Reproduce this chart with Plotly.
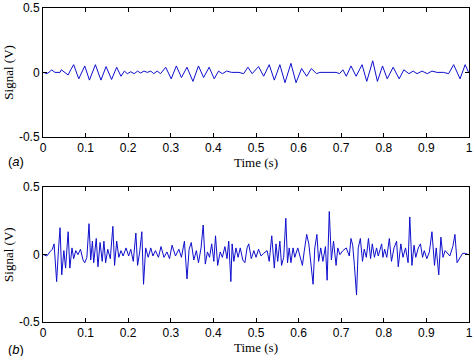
import plotly.graph_objects as go
from plotly.subplots import make_subplots

# Signal (a)
t_a = [0.001, 0.009, 0.016, 0.020, 0.028, 0.040, 0.043, 0.051, 0.059, 0.065,
       0.072, 0.084, 0.098, 0.109, 0.123, 0.136, 0.148, 0.161, 0.173, 0.183,
       0.191, 0.198, 0.206, 0.214, 0.222, 0.229, 0.237, 0.245, 0.253, 0.260,
       0.268, 0.276, 0.288, 0.301, 0.313, 0.325, 0.338, 0.352, 0.365, 0.377,
       0.390, 0.402, 0.412, 0.421, 0.431, 0.443, 0.460, 0.471, 0.481, 0.491,
       0.506, 0.518, 0.531, 0.543, 0.556, 0.568, 0.582, 0.594, 0.607, 0.619,
       0.630, 0.642, 0.650, 0.688, 0.696, 0.704, 0.712, 0.723, 0.735, 0.749,
       0.760, 0.774, 0.785, 0.797, 0.808, 0.822, 0.836, 0.847, 0.859, 0.869,
       0.878, 0.890, 0.902, 0.913, 0.925, 0.940, 0.952, 0.964, 0.979, 0.991,
       0.999]
v_a = [0.0, -0.01, 0.005, 0.02, 0.0, 0.0, 0.02, 0.0, -0.02, 0.02,
       0.06, -0.05, 0.05, -0.06, 0.06, -0.06, 0.045, -0.055, 0.04, -0.03,
       0.01, -0.01, 0.005, -0.01, 0.01, -0.005, 0.01, 0.0, 0.01, -0.01,
       0.01, -0.01, 0.04, -0.05, 0.05, -0.04, 0.04, -0.07, 0.05, -0.04,
       0.04, -0.05, 0.01, -0.01, 0.01, 0.0, 0.0, -0.01, 0.04, -0.01,
       0.045, -0.03, 0.06, -0.06, 0.06, -0.08, 0.07, -0.08, 0.03, -0.03,
       0.03, -0.01, 0.0, 0.0, -0.01, 0.02, -0.03, 0.05, -0.03, 0.06,
       -0.07, 0.09, -0.07, 0.05, -0.05, 0.04, -0.05, 0.02, -0.01, 0.01,
       -0.01, 0.01, -0.01, 0.01, 0.0, 0.0, -0.01, 0.06, -0.05, 0.06,
       0.0]

# Signal (b)
t_b = [0.001, 0.009, 0.016, 0.022, 0.026, 0.032, 0.036, 0.040, 0.044, 0.049,
       0.053, 0.059, 0.063, 0.068, 0.072, 0.077, 0.082, 0.088, 0.094, 0.098,
       0.103, 0.108, 0.112, 0.116, 0.119, 0.125, 0.129, 0.134, 0.139, 0.143,
       0.147, 0.152, 0.158, 0.164, 0.168, 0.173, 0.178, 0.183, 0.188, 0.195,
       0.201, 0.206, 0.212, 0.218, 0.222, 0.227, 0.232, 0.236, 0.241, 0.247,
       0.253, 0.258, 0.264, 0.271, 0.277, 0.284, 0.291, 0.297, 0.303, 0.311,
       0.319, 0.325, 0.332, 0.338, 0.343, 0.348, 0.354, 0.360, 0.365, 0.371,
       0.376, 0.381, 0.386, 0.391, 0.396, 0.401, 0.405, 0.410, 0.416, 0.421,
       0.427, 0.432, 0.436, 0.441, 0.444, 0.448, 0.453, 0.458, 0.463, 0.469,
       0.474, 0.479, 0.483, 0.489, 0.495, 0.500, 0.506, 0.512, 0.518, 0.526,
       0.531, 0.537, 0.543, 0.547, 0.551, 0.556, 0.560, 0.565, 0.570, 0.574,
       0.578, 0.582, 0.587, 0.591, 0.598, 0.603, 0.609, 0.613, 0.619, 0.624,
       0.629, 0.634, 0.638, 0.643, 0.647, 0.652, 0.657, 0.663, 0.667, 0.672,
       0.677, 0.682, 0.688, 0.692, 0.697, 0.704, 0.712, 0.719, 0.723, 0.727,
       0.731, 0.736, 0.740, 0.745, 0.750, 0.754, 0.759, 0.764, 0.769, 0.773,
       0.778, 0.783, 0.787, 0.795, 0.798, 0.802, 0.807, 0.813, 0.818, 0.824,
       0.830, 0.834, 0.840, 0.845, 0.851, 0.857, 0.861, 0.866, 0.871, 0.875,
       0.881, 0.886, 0.891, 0.895, 0.901, 0.907, 0.913, 0.919, 0.923, 0.929,
       0.934, 0.939, 0.944, 0.950, 0.955, 0.962, 0.967, 0.972, 0.979, 0.985,
       0.991, 0.999]
v_b = [0.0, -0.01, 0.02, 0.04, 0.08, -0.2, 0.02, 0.2, -0.15, 0.03,
       -0.1, 0.17, -0.1, 0.05, -0.03, 0.03, 0.0, 0.04, -0.04, -0.06,
       -0.02, 0.23, -0.04, 0.1, -0.06, 0.12, -0.09, 0.09, -0.05, 0.1,
       -0.06, 0.04, -0.03, 0.21, -0.08, 0.1, -0.02, 0.03, -0.01, 0.05,
       -0.01, 0.04, -0.05, 0.16, -0.08, 0.02, 0.17, -0.22, 0.05, -0.02,
       0.05, -0.01, 0.03, -0.02, 0.06, -0.02, 0.02, -0.03, 0.07, -0.01,
       0.04, -0.02, 0.1, -0.18, 0.04, 0.09, -0.04, 0.03, -0.06, 0.05,
       0.22, -0.07, 0.02, -0.02, 0.08, -0.05, 0.14, -0.08, 0.02, -0.02,
       0.06, -0.03, 0.1, -0.2, 0.08, -0.05, 0.05, -0.02, 0.05, -0.04,
       -0.06, 0.05, 0.08, -0.03, 0.03, -0.02, 0.04, -0.01, 0.01, 0.03,
       -0.05, 0.14, -0.1, 0.08, -0.05, 0.1, -0.08, -0.02, 0.27, -0.06,
       0.05, -0.06, 0.05, -0.02, 0.05, -0.02, -0.08, 0.02, 0.15, 0.08,
       -0.1, -0.22, 0.05, 0.15, -0.05, 0.05, -0.05, 0.06, -0.19, 0.32,
       -0.04, 0.1, -0.08, 0.05, 0.0, 0.03, 0.05, -0.01, 0.12, 0.07,
       -0.08, -0.3, 0.05, 0.12, -0.05, 0.04, -0.02, 0.12, -0.03, 0.08,
       -0.02, 0.05, -0.01, 0.08, -0.02, 0.04, -0.02, 0.12, -0.05, 0.05,
       0.1, -0.09, 0.08, -0.02, 0.05, -0.06, 0.28, -0.08, 0.07, -0.02,
       0.05, 0.08, -0.02, 0.03, -0.03, 0.02, 0.17, -0.08, 0.05, -0.15,
       0.13, -0.02, 0.03, 0.01, -0.01, 0.06, 0.15, -0.06, -0.02, 0.01,
       0.01, 0.0]

x_ticks = [0, 0.1, 0.2, 0.3, 0.4, 0.5, 0.6, 0.7, 0.8, 0.9, 1]
x_tick_labels = ["0", "0.1", "0.2", "0.3", "0.4", "0.5", "0.6", "0.7", "0.8", "0.9", "1"]
y_ticks = [-0.5, 0, 0.5]
y_tick_labels = ["-0.5", "0", "0.5"]

W, H = 474, 356
ML, MR, MT, MB = 43, 1, 5, 34
plot_h = H - MT - MB
top_dom = [(H - MB - 135) / plot_h, 1.0]
bot_dom = [0.0, (H - MB - 186) / plot_h]

fig = make_subplots(rows=2, cols=1)
line_color = "rgb(15,15,205)"
fig.add_trace(go.Scatter(x=t_a, y=v_a, mode="lines",
                         line=dict(color=line_color, width=1)), row=1, col=1)
fig.add_trace(go.Scatter(x=t_b, y=v_b, mode="lines",
                         line=dict(color=line_color, width=1)), row=2, col=1)

tick_font = dict(family="Liberation Sans, Arial, sans-serif", size=12, color="black")
title_font = dict(family="Liberation Serif, Times New Roman, serif", size=13, color="black")

common_x = dict(range=[0, 1], tickmode="array", tickvals=x_ticks, ticktext=x_tick_labels,
                ticks="inside", ticklen=4, tickcolor="black", showline=True, linecolor="black",
                linewidth=1, mirror="ticks", showgrid=False, zeroline=False, tickfont=tick_font,
                ticklabeloverflow="allow",
                title=dict(text="Time (s)", font=title_font, standoff=2))
common_y = dict(range=[-0.5, 0.5], tickmode="array", tickvals=y_ticks, ticktext=y_tick_labels,
                ticks="inside", ticklen=4, tickcolor="black", showline=True, linecolor="black",
                linewidth=1, mirror="ticks", showgrid=False, zeroline=False, tickfont=tick_font,
                ticklabeloverflow="allow",
                title=dict(text="Signal (V)", font=title_font, standoff=2))

fig.update_layout(
    width=W, height=H,
    margin=dict(l=ML, r=MR, t=MT, b=MB),
    paper_bgcolor="white", plot_bgcolor="white",
    showlegend=False,
    xaxis=dict(domain=[0, 1], **common_x),
    xaxis2=dict(domain=[0, 1], **common_x),
    yaxis=dict(domain=top_dom, **common_y),
    yaxis2=dict(domain=bot_dom, **common_y),
    annotations=[
        dict(text="(<i>a</i>)", x=-0.088, xref="paper", y=top_dom[0], yref="paper",
             yshift=-25, showarrow=False, xanchor="left", yanchor="middle",
             font=dict(family="Liberation Sans, Arial, sans-serif", size=13, color="black")),
        dict(text="(<i>b</i>)", x=-0.088, xref="paper", y=0, yref="paper",
             yshift=-27, showarrow=False, xanchor="left", yanchor="middle",
             font=dict(family="Liberation Sans, Arial, sans-serif", size=13, color="black")),
    ],
)

fig.write_html("out.html", config={"displayModeBar": False},
               post_script="document.body.style.margin='0';document.body.style.padding='0';")
